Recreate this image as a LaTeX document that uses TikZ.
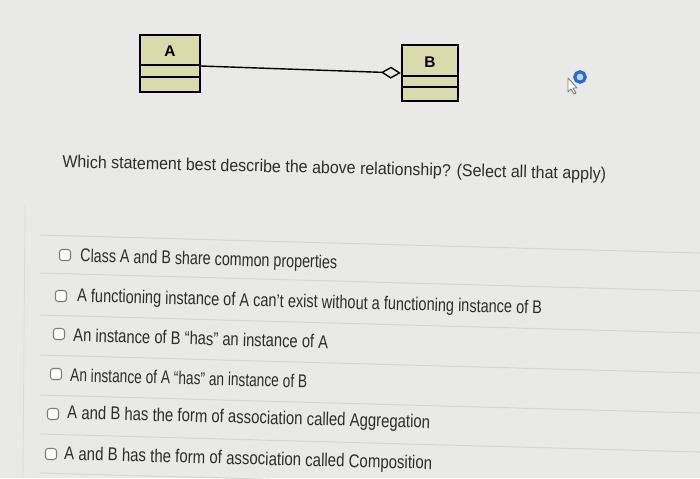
\documentclass[tikz,border=0pt]{standalone}
\usepackage{fontspec}
\setmainfont{Liberation Sans}
\usepackage{graphicx}
\usetikzlibrary{arrows.meta}
\definecolor{khaki}{RGB}{218, 219, 172}
\definecolor{screen}{RGB}{233, 233, 231}
\definecolor{rulegray}{RGB}{214, 214, 212}
\definecolor{ink}{RGB}{45, 45, 45}
\definecolor{boxgray}{RGB}{125, 125, 125}
\definecolor{ringblue}{RGB}{40, 110, 200}
\newcommand{\squeeze}[2]{\resizebox{#1}{\height}{#2}}
\tikzset{
  umlclass/.style={draw=black, line width=1.3pt, fill=khaki, inner sep=0pt},
  classname/.style={font=\fontsize{8.8}{10}\selectfont\bfseries, text=black, inner sep=0pt},
  checkbox/.style={draw=boxgray, fill=white, rounded corners=1.5pt, line width=0.6pt,
                   minimum size=0.22cm, inner sep=0pt},
  option/.style={anchor=west, inner sep=0pt, rotate=-1.5, text=ink,
                 font=\fontsize{10.5}{12}\selectfont},
  question/.style={anchor=west, inner sep=0pt, rotate=-1.3, text=ink,
                   font=\fontsize{9.8}{12}\selectfont}
}

\begin{document}
\begin{tikzpicture}[x=0.02cm, y=-0.02cm]
            % Screen
            \fill[screen] (0,0) rectangle (700,478);
            \useasboundingbox (0,0) rectangle (700,478);
            % Class boxes
            \node[umlclass, minimum width=1.20cm, minimum height=1.14cm] (A) at (170,63.5) {};
            \node[umlclass, minimum width=1.12cm, minimum height=1.12cm] (B) at (430,73) {};
            \draw[line width=1.1pt] (A.west |- 0,65) -- (A.east |- 0,65);
            \draw[line width=1.1pt] (A.west |- 0,77) -- (A.east |- 0,77);
            \draw[line width=1.1pt] (B.west |- 0,76) -- (B.east |- 0,76);
            \draw[line width=1.1pt] (B.west |- 0,87) -- (B.east |- 0,87);
            \node[classname] (nameA) at (170,51.5) {A};
            \node[classname] (nameB) at (430,62) {B};
            % Aggregation link
            \draw[line width=0.8pt, -{Diamond[open, length=0.40cm, width=0.24cm, line width=0.8pt]}]
                 (A.east |- 0,66) -- (B.west);
            % Cursor
            \draw[ringblue, line width=1.8pt, fill=ringblue!30] (580,77) circle (0.105cm);
            \draw[boxgray, fill=white, line width=0.5pt, line join=round]
                 (568,78) -- (568,92) -- (571,89) -- (574,94) -- (576,93) -- (573,88) -- (577,88) -- cycle;
            % Question
            \node[question] (q) at (62,163) {\squeeze{10.88cm}{Which statement best describe the above relationship? (Select all that apply)}};
            % Separator lines
            \foreach \yy in {235, 273, 315, 355, 395, 434, 473}
                \draw[rulegray, line width=0.6pt] (40,\yy) -- (700,\yy+18);
            \draw[rulegray!70!screen, line width=0.5pt] (25,205) -- (23,478);
            % Options
            \node[checkbox] (c1) at (65,255) {};
            \node[checkbox] (c2) at (61,296) {};
            \node[checkbox] (c3) at (59,334) {};
            \node[checkbox] (c4) at (56,374) {};
            \node[checkbox] (c5) at (53,414) {};
            \node[checkbox] (c6) at (51,454) {};
            \node[option] (t1) at (80,257) {\squeeze{5.14cm}{Class A and B share common properties}};
            \node[option] (t2) at (77,297) {\squeeze{9.30cm}{A functioning instance of A can’t exist without a functioning instance of B}};
            \node[option] (t3) at (73,335) {\squeeze{5.10cm}{An instance of B “has” an instance of A}};
            \node[option] (t4) at (70,375) {\squeeze{4.74cm}{An instance of A “has” an instance of B}};
            \node[option] (t5) at (67,414) {\squeeze{7.26cm}{A and B has the form of association called Aggregation}};
            \node[option] (t6) at (64,455) {\squeeze{7.36cm}{A and B has the form of association called Composition}};
        \end{tikzpicture}
\end{document}
